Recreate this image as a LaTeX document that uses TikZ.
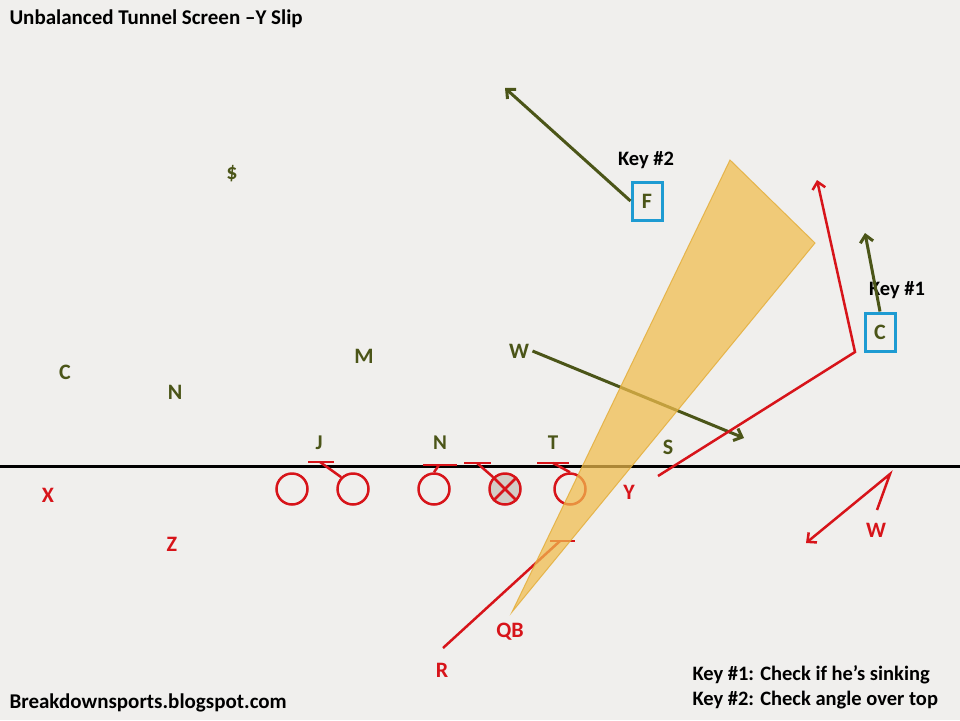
\documentclass[tikz,border=0pt]{standalone}
\usepackage{fontspec}
\setmainfont{Carlito}
\usepackage{xcolor}
\usetikzlibrary{arrows.meta}

\definecolor{defgreen}{HTML}{4B5518}
\definecolor{offred}{HTML}{D7141A}
\definecolor{keyblue}{HTML}{1E9BD2}
\definecolor{conefill}{HTML}{F0BC4C}
\definecolor{conedge}{HTML}{E3AC36}
\definecolor{field}{HTML}{F0EFED}
\definecolor{centergray}{HTML}{D3CDC6}

\tikzset{
  def/.style={text=defgreen, font=\bfseries\fontsize{22}{22}\selectfont},
  deflin/.style={text=defgreen, font=\bfseries\fontsize{21}{21}\selectfont},
  off/.style={text=offred, font=\bfseries\fontsize{22}{22}\selectfont},
  note/.style={text=black, font=\bfseries\fontsize{20.5}{20.5}\selectfont},
  lineman/.style={circle, draw=offred, line width=2.5pt, minimum size=31pt, inner sep=0pt},
  keybox/.style={draw=keyblue, line width=3pt, minimum width=30pt, minimum height=38pt,
    inner sep=0pt, text=defgreen, font=\bfseries\fontsize{22}{22}\selectfont},
  route/.style={draw=offred, line width=2.5pt},
  drop/.style={draw=defgreen, line width=3pt},
  block/.style={draw=offred, line width=2.5pt}
}

\begin{document}
\begin{tikzpicture}[x=1pt, y=-1pt, >={Straight Barb[length=7pt, width=13pt]}]
  \fill[field] (0,0) rectangle (960,720);
  \useasboundingbox (0,0) rectangle (960,720);

  % line of scrimmage
  \coordinate (losl) at (0,466);
  \coordinate (losr) at (960,466);
  \draw[line width=3pt] (losl) -- (losr);

  \node[note, font=\bfseries\fontsize{21}{21}\selectfont, anchor=west] (title) at (6,19) {Unbalanced Tunnel Screen --Y Slip};

  % defense
  \node[def] (dollar) at (232,174) {\$};
  \node[def] (cl) at (65,372) {C};
  \node[def] (nl) at (175,392) {N};
  \node[def] (mike) at (364,356) {M};
  \node[def] (will) at (519,351) {W};
  \node[def] (sam) at (668,447) {S};
  \node[deflin] (dj) at (319,443) {J};
  \node[deflin] (dn) at (440,443) {N};
  \node[deflin] (dt) at (553,443) {T};
  \node[keybox] (free) at (647,201) {F};
  \node[keybox] (corner) at (880,332) {C};
  \node[note] (key2) at (646,160) {Key \#2};
  \node[note] (key1) at (897,290) {Key \#1};

  \coordinate (freeend) at (505,88);
  \coordinate (cornerend) at (865,233);
  \coordinate (willend) at (744,438);
  \draw[drop, ->] (free.west) -- (freeend);
  \draw[drop, ->] (corner.north) -- (cornerend);
  \draw[drop, ->] (will.east) -- (willend);

  % offensive line
  \node[lineman] (c1) at (292,489) {};
  \node[lineman] (c2) at (353,489) {};
  \node[lineman] (c3) at (434,489) {};
  \node[lineman, fill=centergray] (c4) at (505,489) {};
  \node[lineman] (c5) at (570,489) {};
  \draw[block] (c4.north west) -- (c4.south east);
  \draw[block] (c4.north east) -- (c4.south west);

  \coordinate (jb) at (320,462);
  \coordinate (nb) at (439,465);
  \coordinate (cb) at (477,463);
  \coordinate (tb) at (553,463);
  \draw[block] ([xshift=-12pt]jb) -- ([xshift=14pt]jb);
  \draw[block] (jb) -- (c2.north west);
  \draw[block] ([xshift=-16pt]nb) -- ([xshift=18pt]nb);
  \draw[block] (nb) -- (c3.north);
  \draw[block] ([xshift=-13pt]cb) -- ([xshift=14pt]cb);
  \draw[block] (cb) -- (c4.north west);
  \draw[block] ([xshift=-16pt]tb) -- ([xshift=16pt]tb);
  \draw[block] (tb) -- (c5.north);

  % skill players
  \node[off] (xrec) at (48,495) {X};
  \node[off] (zrec) at (172,544) {Z};
  \node[off] (yrec) at (629,492) {Y};
  \node[off] (wrec) at (876,530) {W};
  \node[off] (qb) at (510,632) {QB};
  \node[off] (rb) at (442,670) {R};

  \coordinate (ystart) at (658,476);
  \coordinate (ybreak) at (855,352);
  \coordinate (yend) at (817,180);
  \draw[route, ->] (ystart) -- (ybreak) -- (yend);

  \coordinate (wstart) at (877,510);
  \coordinate (wbreak) at (890,474);
  \coordinate (wend) at (806,543);
  \draw[route, ->] (wstart) -- (wbreak) -- (wend);

  \coordinate (rstart) at (443,648);
  \coordinate (rend) at (560,541);
  \draw[route] (rstart) -- (rend);
  \draw[route] ([xshift=-10pt]rend) -- ([xshift=15pt]rend);

  % throwing lane
  \coordinate (lanetip) at (512,612);
  \coordinate (lanea) at (730,160);
  \coordinate (laneb) at (815,243);
  \draw[fill=conefill, fill opacity=0.72, draw=conedge, draw opacity=0.8, line width=1pt]
    (lanetip) -- (lanea) -- (laneb) -- cycle;

  \node[note, font=\bfseries\fontsize{21}{21}\selectfont, anchor=west] (blog) at (6,703) {Breakdownsports.blogspot.com};
  \node[note, anchor=west] (note1) at (689,675) {Key \#1: Check if he’s sinking};
  \node[note, anchor=west] (note2) at (689,700) {Key \#2: Check angle over top};
\end{tikzpicture}
\end{document}
